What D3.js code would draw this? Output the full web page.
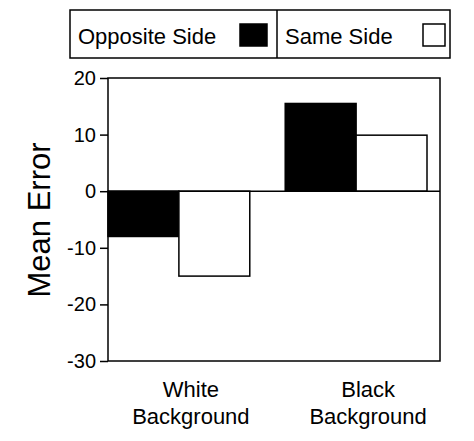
<!DOCTYPE html>
<html><head><meta charset="utf-8">
<script src="https://cdn.jsdelivr.net/npm/d3@7"></script>
<style>body{margin:0;background:#fff}</style></head>
<body><svg id="c" width="474" height="441"></svg>
<script>
const categories = [["White","Background"],["Black","Background"]];
const series = ["Opposite Side","Same Side"];
const opposite = [-8, 15.5];
const same = [-15, 9.9];
const yTicks = [20,10,0,-10,-20,-30];

const svg = d3.select("#c");
const font = "Liberation Sans, Arial, sans-serif";
const L=108,R=440,T=78,B=361;
const y = d3.scaleLinear().domain([-30,20]).range([B,T]);
const x = d3.scaleBand().domain([0,1]).range([L,427]).paddingInner(0.2).paddingOuter(0);
const xs = d3.scaleBand().domain([0,1]).range([0,x.bandwidth()]);
const fills = ["#000","#fff"];
const vals=[opposite,same];

const g = svg.append("g");
[0,1].forEach(c=>{
  [0,1].forEach(s=>{
    const v=vals[s][c];
    g.append("rect").attr("x",x(c)+xs(s)).attr("width",xs.bandwidth())
     .attr("y",y(Math.max(0,v))).attr("height",Math.abs(y(v)-y(0)))
     .attr("fill",fills[s]).attr("stroke","#000").attr("stroke-width",1.5);
  });
  categories[c].forEach((t,i)=>svg.append("text").attr("x",x(c)+x.bandwidth()/2+12)
    .attr("y",397+i*27).attr("text-anchor","middle").attr("font-family",font)
    .attr("font-size",22).text(t));
});
svg.append("line").attr("x1",L).attr("x2",R).attr("y1",y(0)).attr("y2",y(0)).attr("stroke","#000").attr("stroke-width",1.5);
svg.append("rect").attr("x",L).attr("y",T).attr("width",R-L).attr("height",B-T)
  .attr("fill","none").attr("stroke","#000").attr("stroke-width",1.5);

const ax = svg.append("g").attr("transform",`translate(${L},0)`)
  .call(d3.axisLeft(y).tickValues(yTicks).tickSize(8).tickPadding(4).tickFormat(d=>String(d)));
ax.select(".domain").remove();
ax.selectAll("line").attr("stroke-width",1.5);
ax.selectAll("text").attr("font-family",font).attr("font-size",20).attr("fill","#000");

svg.append("text").attr("transform","translate(50,220) rotate(-90)")
  .attr("text-anchor","middle").attr("font-family",font).attr("font-size",31).text("Mean Error");

// legend
svg.append("rect").attr("x",70).attr("y",10).attr("width",380).attr("height",48)
  .attr("fill","none").attr("stroke","#000").attr("stroke-width",1.5);
svg.append("line").attr("x1",277).attr("x2",277).attr("y1",10).attr("y2",58).attr("stroke","#000").attr("stroke-width",1.5);
const lg=[{x:78,sx:240,sw:27},{x:285,sx:423,sw:22}];
series.forEach((s,i)=>{
  svg.append("text").attr("x",lg[i].x).attr("y",44).attr("font-family",font).attr("font-size",22).text(s);
  svg.append("rect").attr("x",lg[i].sx).attr("y",24).attr("width",lg[i].sw).attr("height",22)
    .attr("fill",fills[i]).attr("stroke","#000").attr("stroke-width",1.5);
});
</script></body></html>
